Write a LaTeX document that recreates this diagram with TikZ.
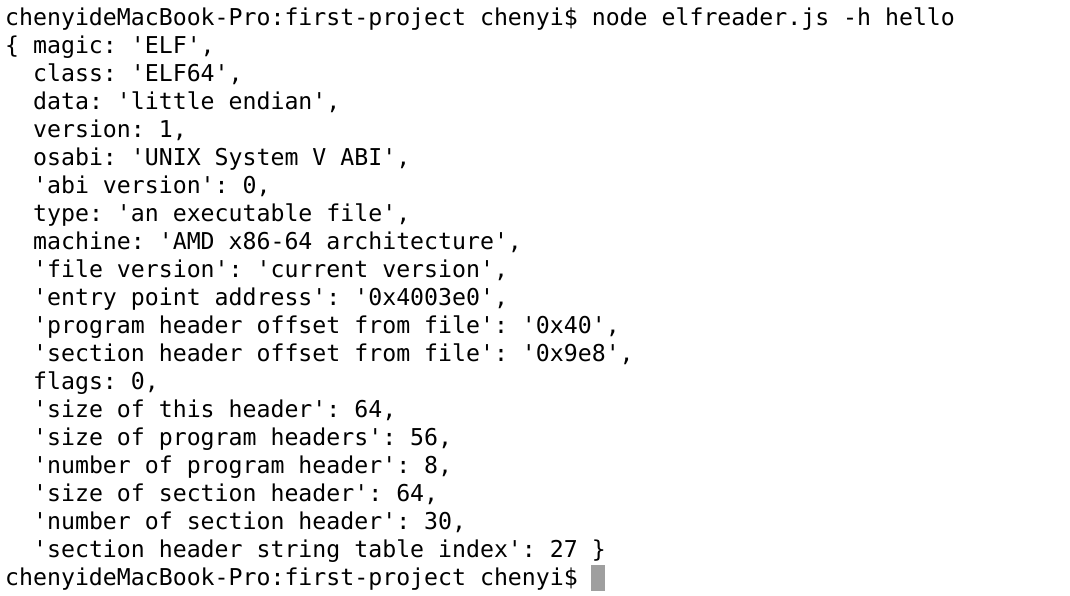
\documentclass[tikz,border=0pt]{standalone}
\usepackage{fontspec}
\setmonofont{DejaVu Sans Mono}
\begin{document}
\begin{tikzpicture}[x=1pt,y=1pt,ln/.style={anchor=base west,inner sep=0pt,font=\fontsize{23.2}{23.2}\selectfont\ttfamily,text=black}]
\useasboundingbox[fill=white] (0,0) rectangle (1070,596);
\def\Y#1{596-26-28*#1}
\node[ln] (l0) at (5,{\Y{0}}) {chenyideMacBook-Pro:first-project chenyi\$ node elfreader.js -h hello};
\node[ln] (l1) at (5,{\Y{1}}) {\{ magic: 'ELF',};
\node[ln] (l2) at (5,{\Y{2}}) {\ \ class: 'ELF64',};
\node[ln] (l3) at (5,{\Y{3}}) {\ \ data: 'little endian',};
\node[ln] (l4) at (5,{\Y{4}}) {\ \ version: 1,};
\node[ln] (l5) at (5,{\Y{5}}) {\ \ osabi: 'UNIX System V ABI',};
\node[ln] (l6) at (5,{\Y{6}}) {\ \ 'abi version': 0,};
\node[ln] (l7) at (5,{\Y{7}}) {\ \ type: 'an executable file',};
\node[ln] (l8) at (5,{\Y{8}}) {\ \ machine: 'AMD x86-64 architecture',};
\node[ln] (l9) at (5,{\Y{9}}) {\ \ 'file version': 'current version',};
\node[ln] (l10) at (5,{\Y{10}}) {\ \ 'entry point address': '0x4003e0',};
\node[ln] (l11) at (5,{\Y{11}}) {\ \ 'program header offset from file': '0x40',};
\node[ln] (l12) at (5,{\Y{12}}) {\ \ 'section header offset from file': '0x9e8',};
\node[ln] (l13) at (5,{\Y{13}}) {\ \ flags: 0,};
\node[ln] (l14) at (5,{\Y{14}}) {\ \ 'size of this header': 64,};
\node[ln] (l15) at (5,{\Y{15}}) {\ \ 'size of program headers': 56,};
\node[ln] (l16) at (5,{\Y{16}}) {\ \ 'number of program header': 8,};
\node[ln] (l17) at (5,{\Y{17}}) {\ \ 'size of section header': 64,};
\node[ln] (l18) at (5,{\Y{18}}) {\ \ 'number of section header': 30,};
\node[ln] (l19) at (5,{\Y{19}}) {\ \ 'section header string table index': 27 \}};
\node[ln] (l20) at (5,{\Y{20}}) {chenyideMacBook-Pro:first-project chenyi\$};
\fill[gray!75] (591,5) rectangle (605,31);
\end{tikzpicture}
\end{document}
